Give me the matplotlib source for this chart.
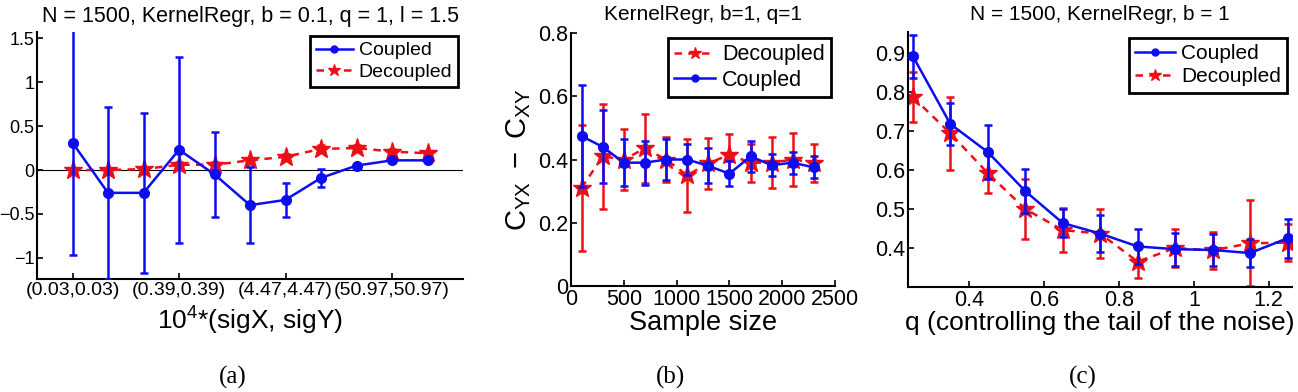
import matplotlib
matplotlib.use('Agg')
from matplotlib import pyplot as plt
from matplotlib.lines import Line2D

plt.rcParams['font.family'] = ['Liberation Sans', 'DejaVu Sans']
plt.rcParams['mathtext.fontset'] = 'custom'
plt.rcParams['mathtext.rm'] = 'Liberation Sans'
plt.rcParams['mathtext.it'] = 'Liberation Sans'

BLUE = (0.05, 0.05, 0.95)
RED = (0.93, 0.06, 0.09)

# (a) noise level sweep
sig_idx = [1, 2, 3, 4, 5, 6, 7, 8, 9, 10, 11]
sig_ticks = [1, 4, 7, 10]
sig_labels = ['(0.03,0.03)', '(0.39,0.39)', '(4.47,4.47)', '(50.97,50.97)']
a_coupled = [0.31, -0.26, -0.26, 0.23, -0.05, -0.40, -0.34, -0.09, 0.05, 0.11, 0.11]
a_coupled_err = [1.28, 0.98, 0.91, 1.06, 0.48, 0.43, 0.19, 0.10, 0.02, 0.01, 0.01]
a_decoupled = [0.0, 0.0, 0.01, 0.06, 0.06, 0.11, 0.15, 0.24, 0.25, 0.21, 0.19]
a_decoupled_err = [0.01, 0.01, 0.02, 0.03, 0.03, 0.03, 0.03, 0.04, 0.03, 0.03, 0.03]

# (b) sample size sweep
sizes = [100, 300, 500, 700, 900, 1100, 1300, 1500, 1700, 1900, 2100, 2300]
b_coupled = [0.474, 0.44, 0.39, 0.39, 0.40, 0.40, 0.38, 0.355, 0.41, 0.382, 0.39, 0.375]
b_coupled_err = [0.16, 0.115, 0.075, 0.07, 0.065, 0.05, 0.055, 0.04, 0.05, 0.035, 0.035, 0.035]
b_decoupled = [0.31, 0.41, 0.40, 0.435, 0.40, 0.35, 0.388, 0.415, 0.39, 0.39, 0.40, 0.39]
b_decoupled_err = [0.20, 0.165, 0.095, 0.11, 0.07, 0.115, 0.08, 0.065, 0.06, 0.08, 0.085, 0.06]

# (c) tail parameter sweep
q_vals = [0.25, 0.35, 0.45, 0.55, 0.65, 0.75, 0.85, 0.95, 1.05, 1.15, 1.25]
c_coupled = [0.892, 0.718, 0.646, 0.546, 0.464, 0.437, 0.404, 0.397, 0.395, 0.387, 0.425]
c_coupled_err = [0.055, 0.055, 0.07, 0.057, 0.035, 0.048, 0.045, 0.042, 0.04, 0.035, 0.05]
c_decoupled = [0.787, 0.694, 0.592, 0.50, 0.446, 0.437, 0.365, 0.40, 0.394, 0.412, 0.414]
c_decoupled_err = [0.065, 0.094, 0.05, 0.078, 0.057, 0.062, 0.042, 0.048, 0.048, 0.11, 0.048]


def draw_pair(ax, x, y1, e1, y2, e2, tick_fs):
    ax.errorbar(x, y1, yerr=e1, color=BLUE, lw=1.8, marker='o', ms=7, capsize=3,
                capthick=1.8, elinewidth=1.8, zorder=3)
    ax.errorbar(x, y2, yerr=e2, color=RED, lw=1.8, ls='--', dashes=(3, 2.5), marker='*',
                ms=14, capsize=3, capthick=1.8, elinewidth=1.8, zorder=2)
    for s in ['top', 'right']:
        ax.spines[s].set_visible(False)
    for s in ['left', 'bottom']:
        ax.spines[s].set_linewidth(1.5)
    ax.tick_params(direction='in', length=4, width=1.2, labelsize=tick_fs, pad=2)


def add_legend(ax, fig, order, right, top, fs):
    proxies = {
        'Coupled': Line2D([], [], color=BLUE, lw=1.8, marker='o', ms=5),
        'Decoupled': Line2D([], [], color=RED, lw=1.8, ls='--', dashes=(3, 2.5),
                            marker='*', ms=9),
    }
    leg = ax.legend([proxies[n] for n in order], order, loc='upper right',
                    bbox_to_anchor=(right / 1298, 1 - top / 392),
                    bbox_transform=fig.transFigure, borderaxespad=0, fontsize=fs,
                    fancybox=False, framealpha=1, edgecolor='black',
                    handlelength=1.9, handletextpad=0.3, labelspacing=0.2,
                    borderpad=0.3)
    leg.get_frame().set_linewidth(2)


fig = plt.figure(figsize=(12.98, 3.92), dpi=100)

# panel (a)
ax1 = fig.add_axes([37 / 1298, 1 - 279 / 392, 426 / 1298, 247 / 392])
draw_pair(ax1, sig_idx, a_coupled, a_coupled_err, a_decoupled, a_decoupled_err, 13)
ax1.axhline(0, color='black', lw=0.8, zorder=1)
ax1.set_xlim(0, 12)
ax1.set_ylim(-1.24, 1.57)
ax1.set_yticks([-1, -0.5, 0, 0.5, 1, 1.5])
ax1.set_yticklabels(['\u22121', '\u22120.5', '0', '0.5', '1', '1.5'])
ax1.set_xticks(sig_ticks)
ax1.set_xticklabels(sig_labels, fontsize=14)
ax1.set_xlabel('10$^4$*(sigX, sigY)', fontsize=19, labelpad=4)
ax1.set_title('N = 1500, KernelRegr, b = 0.1, q = 1, l = 1.5', fontsize=15.5, pad=7)
add_legend(ax1, fig, ['Coupled', 'Decoupled'], 458, 36, 14)

# panel (b)
ax2 = fig.add_axes([571 / 1298, 1 - 286 / 392, 264 / 1298, 253 / 392])
draw_pair(ax2, sizes, b_coupled, b_coupled_err, b_decoupled, b_decoupled_err, 15.5)
ax2.set_xlim(0, 2500)
ax2.set_ylim(0, 0.8)
ax2.set_yticks([0, 0.2, 0.4, 0.6, 0.8])
ax2.set_yticklabels(['0', '0.2', '0.4', '0.6', '0.8'])
ax2.set_xticks([0, 500, 1000, 1500, 2000, 2500])
ax2.set_xlabel('Sample size', fontsize=19.5, labelpad=0)
ax2.set_ylabel('$\\mathregular{C_{YX}\\ -\\ C_{XY}}$', fontsize=21, labelpad=4)
ax2.set_title('KernelRegr, b=1, q=1', fontsize=15, pad=9)
add_legend(ax2, fig, ['Decoupled', 'Coupled'], 831, 38, 15.5)

# panel (c)
ax3 = fig.add_axes([908 / 1298, 1 - 287 / 392, 384 / 1298, 255 / 392])
draw_pair(ax3, q_vals, c_coupled, c_coupled_err, c_decoupled, c_decoupled_err, 15.5)
ax3.set_xlim(0.237, 1.262)
ax3.set_ylim(0.30, 0.954)
ax3.set_yticks([0.4, 0.5, 0.6, 0.7, 0.8, 0.9])
ax3.set_yticklabels(['0.4', '0.5', '0.6', '0.7', '0.8', '0.9'])
ax3.set_xticks([0.4, 0.6, 0.8, 1.0, 1.2])
ax3.set_xticklabels(['0.4', '0.6', '0.8', '1', '1.2'])
ax3.set_xlabel('q (controlling the tail of the noise)', fontsize=19, labelpad=0)
ax3.set_title('N = 1500, KernelRegr, b = 1', fontsize=15, pad=9)
add_legend(ax3, fig, ['Coupled', 'Decoupled'], 1287, 38, 15)

for x, lab in [(233, '(a)'), (671, '(b)'), (1083, '(c)')]:
    fig.text(x / 1298, 1 - 377 / 392, lab, ha='center', va='center',
             fontsize=18, family='Liberation Serif')

fig.savefig('out.png', dpi=100)
